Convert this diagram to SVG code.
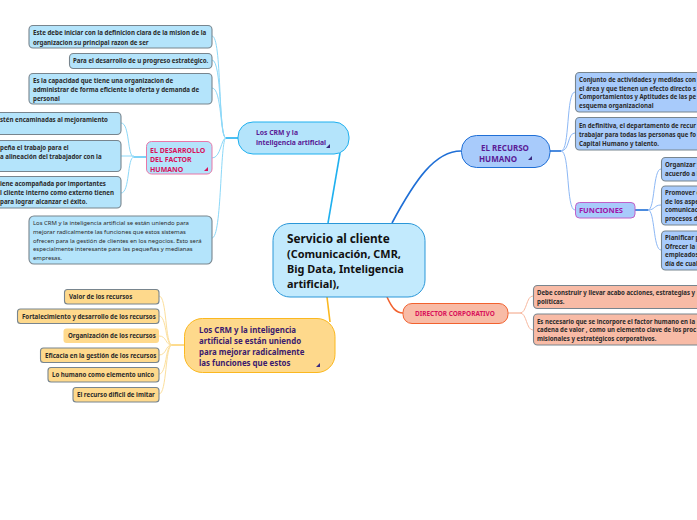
<svg xmlns="http://www.w3.org/2000/svg" width="697" height="520" viewBox="0 0 697 520">
<style>
text{font-family:"Noto Sans","DejaVu Sans",sans-serif;font-weight:700;font-size:6.150px;fill:#2a2a2a}
.n{font-weight:400;font-size:5.950px}
.leaf{stroke:#78858e;stroke-width:1.100}
.cy{fill:#b4e4fb}.bl{fill:#a8cbfb}.sa{fill:#f8bba6}.ye{fill:#fed98c}
.c{fill:none}
.cyl{stroke:#8cd8f8;stroke-width:1}.cym{stroke:#1fb0ef;stroke-width:1.600}
.bll{stroke:#8db8f5;stroke-width:1}.blm{stroke:#1f6fd6;stroke-width:1.600}
.sal{stroke:#f8b9a0;stroke-width:1}.yel{stroke:#fcdf9c;stroke-width:1}
.p{fill:#5a1a96;font-size:6.800px}
.h{font-size:8px}
.pk{font-size:7px;fill:#d8125b}
.ct{font-size:10.900px;fill:#111}
.yt{font-size:7.900px;fill:#3b1a6e}
.tri{fill:#3a2a80}
</style>
<g id="connectors" class="c">
<path class="cyl" d="M212 36C222 36 218 138 226 138M212 60C222 60 219 138 226 138M212 88C222 88 220 138 226 138M212 158C221 158 221 138 226 138M212 238C222 238 220 138 226 138"/>
<path class="cym" d="M226 138H238"/>
<path class="cym" d="M340 153L328 223"/>
<path class="cyl" d="M121 123C130 123 127 157 134 157M121 156H134M121 193C130 193 127 157 134 157"/>
<path d="M134 157H146" stroke="#5fc8f5" stroke-width="1.600"/>
<path class="blm" d="M392 223C415 180 435 151 461 151"/>
<path class="blm" d="M550 151H561"/>
<path class="bll" d="M561 151C570 151 566 92 575 92M561 151C570 151 567 133 575 133M561 151C570 151 566 210 575 210"/>
<path class="blm" d="M635 210H648"/>
<path class="bll" d="M648 210C655 210 653 169 661 169M648 210C655 210 654 205 661 205M648 210C655 210 653 250 661 250"/>
<path d="M387 297C392 308 396 313 403 313" stroke="#f2622f" stroke-width="1.600"/>
<path d="M508 313H520" stroke="#f2a080" stroke-width="1"/>
<path class="sal" d="M520 313C527 313 526 296 533 296M520 313C527 313 526 330 533 330"/>
<path d="M327 297L330 322" stroke="#fbb81f" stroke-width="1.600"/>
<path d="M184 345H172" stroke="#fbb81f" stroke-width="1"/>
<path class="yel" d="M172 345C165 345 167 296 159 296M172 345C165 345 167 316 159 316M172 345C165 345 167 336 159 336M172 345C165 345 167 355 159 355M172 345C165 345 167 374 159 374M172 345C165 345 167 394 159 394"/>
</g>

<g id="center"><rect x="273" y="223.500" width="152" height="73.500" rx="17" fill="#c2eafd" stroke="#2a97d8"/>
<text x="287" y="243" class="ct" style="font-size:11.800px">Servicio al cliente</text>
<text x="287" y="258" class="ct">(Comunicación, CMR,</text>
<text x="287" y="273" class="ct">Big Data, Inteligencia</text>
<text x="287" y="288" class="ct">artificial),</text></g>

<g id="crm"><rect x="238" y="122" width="111" height="32" rx="15" class="cy" stroke="#1fb0ef"/>
<text class="p" x="256" y="135">Los CRM y la</text><text class="p" x="256" y="145">inteligencia artificial</text>
<path class="tri" d="M330 148L330 144L326 148Z"/></g>

<g id="desarrollo"><rect x="146.500" y="141.500" width="65.500" height="32.500" rx="5" class="cy" stroke="#e877a8"/>
<text x="150" y="152.500" class="pk">EL DESARROLLO</text><text x="150" y="162" class="pk">DEL FACTOR</text><text x="150" y="171.500" class="pk">HUMANO</text>
<path fill="#d8125b" d="M208 171L208 167L204 171Z"/></g>

<g id="l1"><rect x="29" y="25.500" width="183" height="22.500" rx="4" class="cy leaf"/><text x="33" y="35">Este debe iniciar con la definicion clara de la mision de la</text><text x="33" y="44.500">organizacion su principal razon de ser</text></g>
<g id="l2"><rect x="69.500" y="53.500" width="142.500" height="15" rx="4" class="cy leaf"/><text x="73" y="63">Para el desarrollo de u  progreso estratégico.</text></g>
<g id="l3"><rect x="29" y="73.500" width="183" height="30.500" rx="4" class="cy leaf"/><text x="33" y="83">Es la capacidad que tiene una organizacion de</text><text x="33" y="91.500">administrar de forma eficiente la oferta y demanda de</text><text x="33" y="100.500">personal</text></g>
<g id="l4"><rect x="-20" y="112.500" width="141" height="22" rx="4" class="cy leaf"/><text x="0" y="122">stén encaminadas al mejoramiento</text></g>
<g id="l5"><rect x="-20" y="140.500" width="141" height="31" rx="4" class="cy leaf"/><text x="0" y="150">peña el trabajo para el</text><text x="0" y="159">a alineación del trabajador con la</text></g>
<g id="l6"><rect x="-20" y="176.500" width="141" height="31.500" rx="4" class="cy leaf"/><text x="0" y="186">iene acompañada por importantes</text><text x="0" y="195">l cliente interno como externo tienen</text><text x="0" y="203.500">para lograr alcanzar el éxito.</text></g>
<g id="l7"><rect x="29" y="216" width="183" height="48" rx="5" class="cy leaf"/>
<text class="n" x="33" y="225">Los CRM y la inteligencia artificial se están uniendo para</text><text class="n" x="33" y="234">mejorar radicalmente las funciones que estos sistemas</text><text class="n" x="33" y="242.500">ofrecen para la gestión de clientes en los negocios. Esto será</text><text class="n" x="33" y="251">especialmente interesante para las pequeñas y medianas</text><text class="n" x="33" y="259.500">empresas.</text></g>

<g id="recurso"><rect x="461.500" y="135.500" width="88.500" height="32" rx="15" class="bl" stroke="#1f6fd6"/>
<text class="p h" x="481" y="150.500">EL RECURSO</text><text class="p h" x="479" y="161.500">HUMANO</text>
<path class="tri" d="M532 160L532 156L528 160Z"/></g>
<g id="r1"><rect x="575.500" y="72.500" width="140" height="39.500" rx="4" class="bl leaf"/><text x="579" y="82" textLength="117" lengthAdjust="spacingAndGlyphs">Conjunto de actividades y medidas con</text><text x="579" y="90.500" textLength="117" lengthAdjust="spacingAndGlyphs">el área y que tienen un efecto directo s</text><text x="579" y="99" textLength="117" lengthAdjust="spacingAndGlyphs">Comportamientos y Aptitudes de las pe</text><text x="579" y="107.500">esquema organizacional</text></g>
<g id="r2"><rect x="575.500" y="117.500" width="140" height="32.500" rx="4" class="bl leaf"/><text x="579" y="128" textLength="117" lengthAdjust="spacingAndGlyphs">En definitiva, el departamento de recur</text><text x="579" y="137" textLength="117" lengthAdjust="spacingAndGlyphs">trabajar para todas las personas que fo</text><text x="579" y="145.500">Capital Humano y talento.</text></g>
<g id="funciones"><rect x="575.500" y="202.500" width="59.500" height="15.500" rx="4" class="bl" stroke="#c060c8"/><text x="579" y="213" style="font-size:7.500px;fill:#a012a8">FUNCIONES</text></g>
<g id="f1"><rect x="661.500" y="157.500" width="60" height="23.500" rx="4" class="bl leaf"/><text x="665" y="167">Organizar y</text><text x="665" y="176">acuerdo a l</text></g>
<g id="f2"><rect x="661.500" y="186" width="60" height="39" rx="4" class="bl leaf"/><text x="665" y="195">Promover d</text><text x="665" y="203.500">de los aspe</text><text x="665" y="212">comunicac</text><text x="665" y="220.500">procesos d</text></g>
<g id="f3"><rect x="661.500" y="231" width="60" height="39" rx="4" class="bl leaf"/><text x="665" y="240">Planificar p</text><text x="665" y="248.500">Ofrecer la p</text><text x="665" y="257">empleados</text><text x="665" y="265.500">día de cual</text></g>

<g id="director"><rect x="403" y="303.500" width="105" height="20" rx="9" class="sa" stroke="#f2622f"/><text x="415" y="316" style="font-size:6.450px;fill:#d8125b">DIRECTOR CORPORATIVO</text></g>
<g id="d1"><rect x="533.500" y="285.500" width="180" height="23" rx="4" class="sa leaf"/><text x="537" y="295" textLength="158" lengthAdjust="spacingAndGlyphs">Debe construir y llevar acabo acciones, estrategias y</text><text x="537" y="304">políticas.</text></g>
<g id="d2"><rect x="533.500" y="314" width="180" height="31" rx="4" class="sa leaf"/><text x="537" y="323.500" textLength="158" lengthAdjust="spacingAndGlyphs">Es necesario que se incorpore el factor humano en la</text><text x="537" y="332" textLength="159" lengthAdjust="spacingAndGlyphs">cadena de valor , como un elemento clave de los proc</text><text x="537" y="340.500">misionales y estratégicos corporativos.</text></g>

<g id="yellow"><rect x="184.500" y="318.500" width="150.500" height="54" rx="18" class="ye" stroke="#fbb81f"/>
<text x="199" y="333" class="yt">Los CRM y la inteligencia</text><text x="199" y="344" class="yt">artificial se están uniendo</text><text x="199" y="355" class="yt">para mejorar radicalmente</text><text x="199" y="366" class="yt">las funciones que estos</text>
<path class="tri" d="M320 367L320 363L316 367Z"/></g>
<g id="y1"><rect x="64.500" y="289.500" width="94.500" height="14.500" rx="3" class="ye leaf"/><text x="69" y="299">Valor de los recursos</text></g>
<g id="y2"><rect x="17.500" y="309" width="141.500" height="14.500" rx="3" class="ye leaf"/><text x="22" y="319">Fortalecimiento y desarrollo de los recursos</text></g>
<g id="y3"><rect x="63.500" y="328.500" width="95.500" height="14.500" rx="3" class="ye"/><text x="68" y="338">Organización de los recursos</text></g>
<g id="y4"><rect x="40.500" y="348" width="118.500" height="14.500" rx="3" class="ye leaf"/><text x="45" y="358">Eficacia en la gestión de los recursos</text></g>
<g id="y5"><rect x="48" y="367.500" width="111" height="14.500" rx="3" class="ye leaf"/><text x="52" y="377">Lo humano como elemento unico</text></g>
<g id="y6"><rect x="73" y="387.500" width="86" height="14.500" rx="3" class="ye leaf"/><text x="77" y="397">El recurso dificil de imitar</text></g>
</svg>
